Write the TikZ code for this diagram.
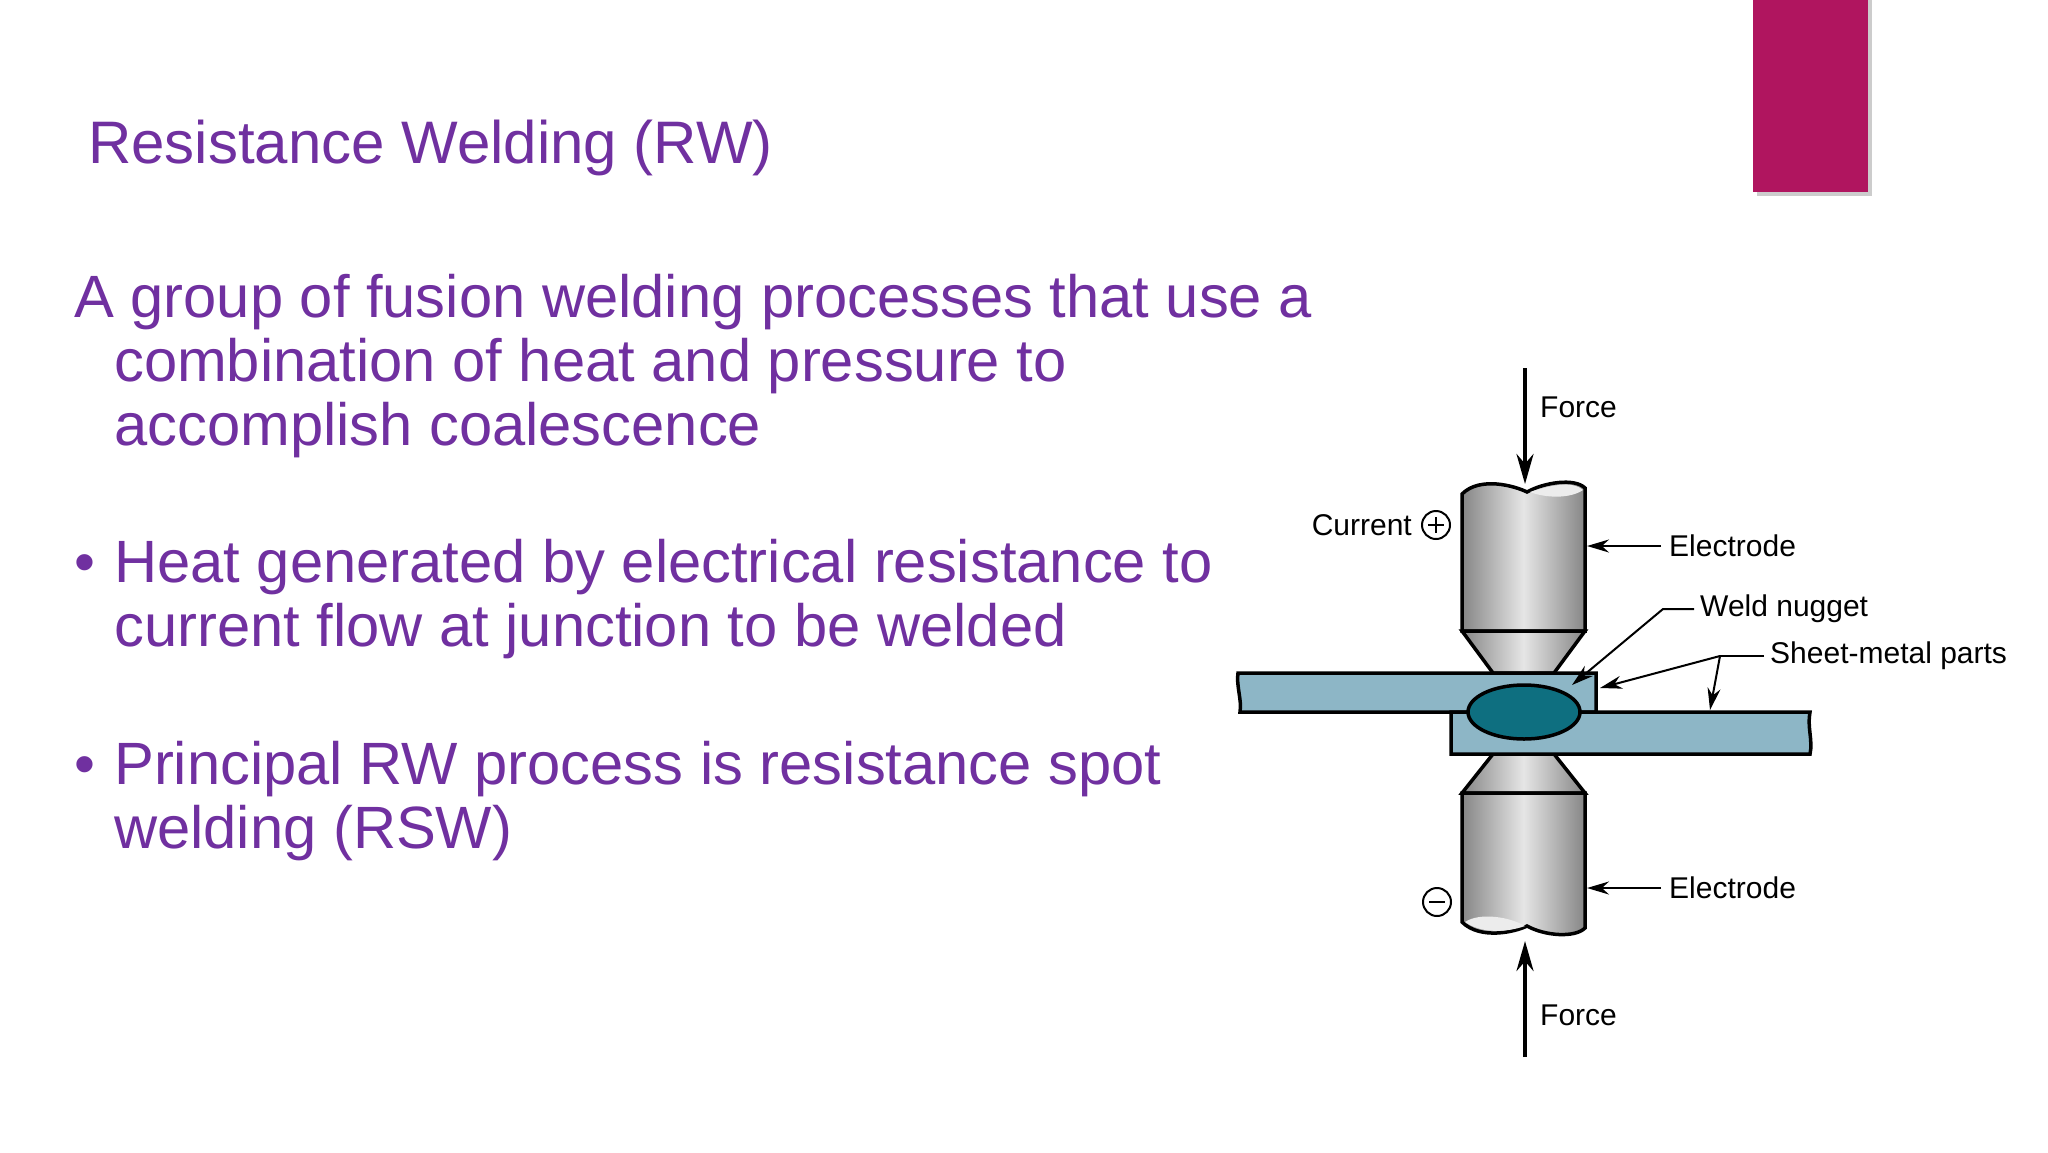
\documentclass[tikz,border=0pt]{standalone}
\usepackage{fontspec}
\setmainfont{Liberation Sans}
\usetikzlibrary{arrows.meta,shapes.geometric}
\definecolor{pur}{HTML}{7030A0}
\definecolor{mag}{HTML}{B0155F}
\definecolor{sheet}{HTML}{8DB6C6}
\definecolor{nug}{HTML}{0E6F80}
\begin{document}
\begin{tikzpicture}[x=1pt,y=-1pt,
  body/.style={anchor=base west,text=pur,font=\fontsize{59.7}{64}\selectfont,inner sep=0},
  lab/.style={anchor=west,font=\fontsize{30}{32}\selectfont,inner sep=0},
  elec/.style={draw=black,line width=3.5pt,left color=gray!95,right color=gray!95,middle color=gray!20},
  ar/.style={-{Stealth[length=30pt,width=17pt]},line width=4pt},
  sar/.style={-{Stealth[length=22pt,width=13pt]},line width=2pt}]
\useasboundingbox (0,0) rectangle (2048,1152);
\fill[white] (0,0) rectangle (2048,1152);
% magenta box
\fill[gray!40] (1757,0) rectangle (1872,196);
\fill[mag] (1753,0) rectangle (1868,192);
\node[anchor=base west,text=pur,font=\fontsize{60}{64}\selectfont,inner sep=0] (title) at (88,163) {Resistance Welding (RW)};
\node[body] (l1) at (74,317) {A group of fusion welding processes that use a};
\node[body] (l2) at (114,381) {combination of heat and pressure to};
\node[body] (l3) at (114,445) {accomplish coalescence};
\node[body] (b1) at (74,582) {•};
\node[body] (l4) at (114,582) {Heat generated by electrical resistance to};
\node[body] (l5) at (114,646) {current flow at junction to be welded};
\node[body] (b2) at (74,784) {•};
\node[body] (l6) at (114,784) {Principal RW process is resistance spot};
\node[body] (l7) at (114,848) {welding (RSW)};
% electrodes
\path[elec] (1462,631) -- (1462,494) .. controls (1480,476) and (1515,486) .. (1527,492) .. controls (1545,482) and (1575,478) .. (1585,488) -- (1585,631) -- cycle;
\fill[gray!15] (1530,492) .. controls (1548,486) and (1572,480) .. (1583,490) .. controls (1570,499) and (1545,498) .. cycle;
\path[elec] (1462,631) -- (1585,631) -- (1554,673) -- (1493,673) -- cycle;
\path[elec] (1462,793) -- (1585,793) -- (1554,754) -- (1493,754) -- cycle;
\path[elec] (1462,793) -- (1462,922) .. controls (1480,940) and (1515,932) .. (1527,926) .. controls (1545,936) and (1575,938) .. (1585,928) -- (1585,793) -- cycle;
\fill[gray!15] (1465,922) .. controls (1480,912) and (1510,917) .. (1525,926) .. controls (1505,933) and (1480,933) .. cycle;
% sheets
\draw[fill=sheet,line width=3.5pt] (1238,673) -- (1596,673) -- (1596,712) -- (1240,712) .. controls (1242,700) and (1236,685) .. cycle;
\draw[fill=sheet,line width=3.5pt] (1451,712) -- (1810,712) .. controls (1807,727) and (1813,740) .. (1810,754) -- (1451,754) -- cycle;
\node[draw=black,line width=3.5pt,fill=nug,ellipse,minimum width=112pt,minimum height=54pt,inner sep=0] (nugget) at (1524,712) {};
% forces
\coordinate (ft) at (1525,368);
\coordinate (fte) at (1525,484);
\draw[ar] (ft) -- (fte);
\node[lab] (force1) at (1540,407) {Force};
\coordinate (fb) at (1525,1057);
\coordinate (fbe) at (1525,941);
\draw[ar] (fb) -- (fbe);
\node[lab] (force2) at (1540,1015) {Force};
% current
\node[lab,anchor=east] (cur) at (1412,525) {Current};
\node[draw,circle,line width=2pt,minimum size=28pt,inner sep=0] (plus) at (1436,525) {};
\draw[line width=2pt] (1428,525) -- (1444,525) (1436,517) -- (1436,533);
\node[draw,circle,line width=2pt,minimum size=28pt,inner sep=0] (minus) at (1437,902) {};
\draw[line width=2pt] (1429,902) -- (1445,902);
% electrode labels
\node[lab] (e1) at (1669,546) {Electrode};
\draw[sar] (e1.west) ++(-8,0) coordinate (e1a) -- (1587,546);
\node[lab] (e2) at (1669,888) {Electrode};
\draw[sar] (e2.west) ++(-8,0) coordinate (e2a) -- (1587,888);
% weld nugget
\node[lab] (wn) at (1700,609) {Weld nugget};
\coordinate (wnk) at (1663,609);
\draw[sar] (wn.west) ++(-6,0) -- (wnk) -- (1572,685);
% sheet-metal parts
\node[lab] (sm) at (1770,656) {Sheet-metal parts};
\coordinate (smk) at (1720,656);
\draw[line width=2pt] (sm.west) ++(-6,0) -- (smk);
\draw[sar] (smk) -- (1600,688);
\draw[sar] (smk) -- (1710,710);
\end{tikzpicture}
\end{document}
